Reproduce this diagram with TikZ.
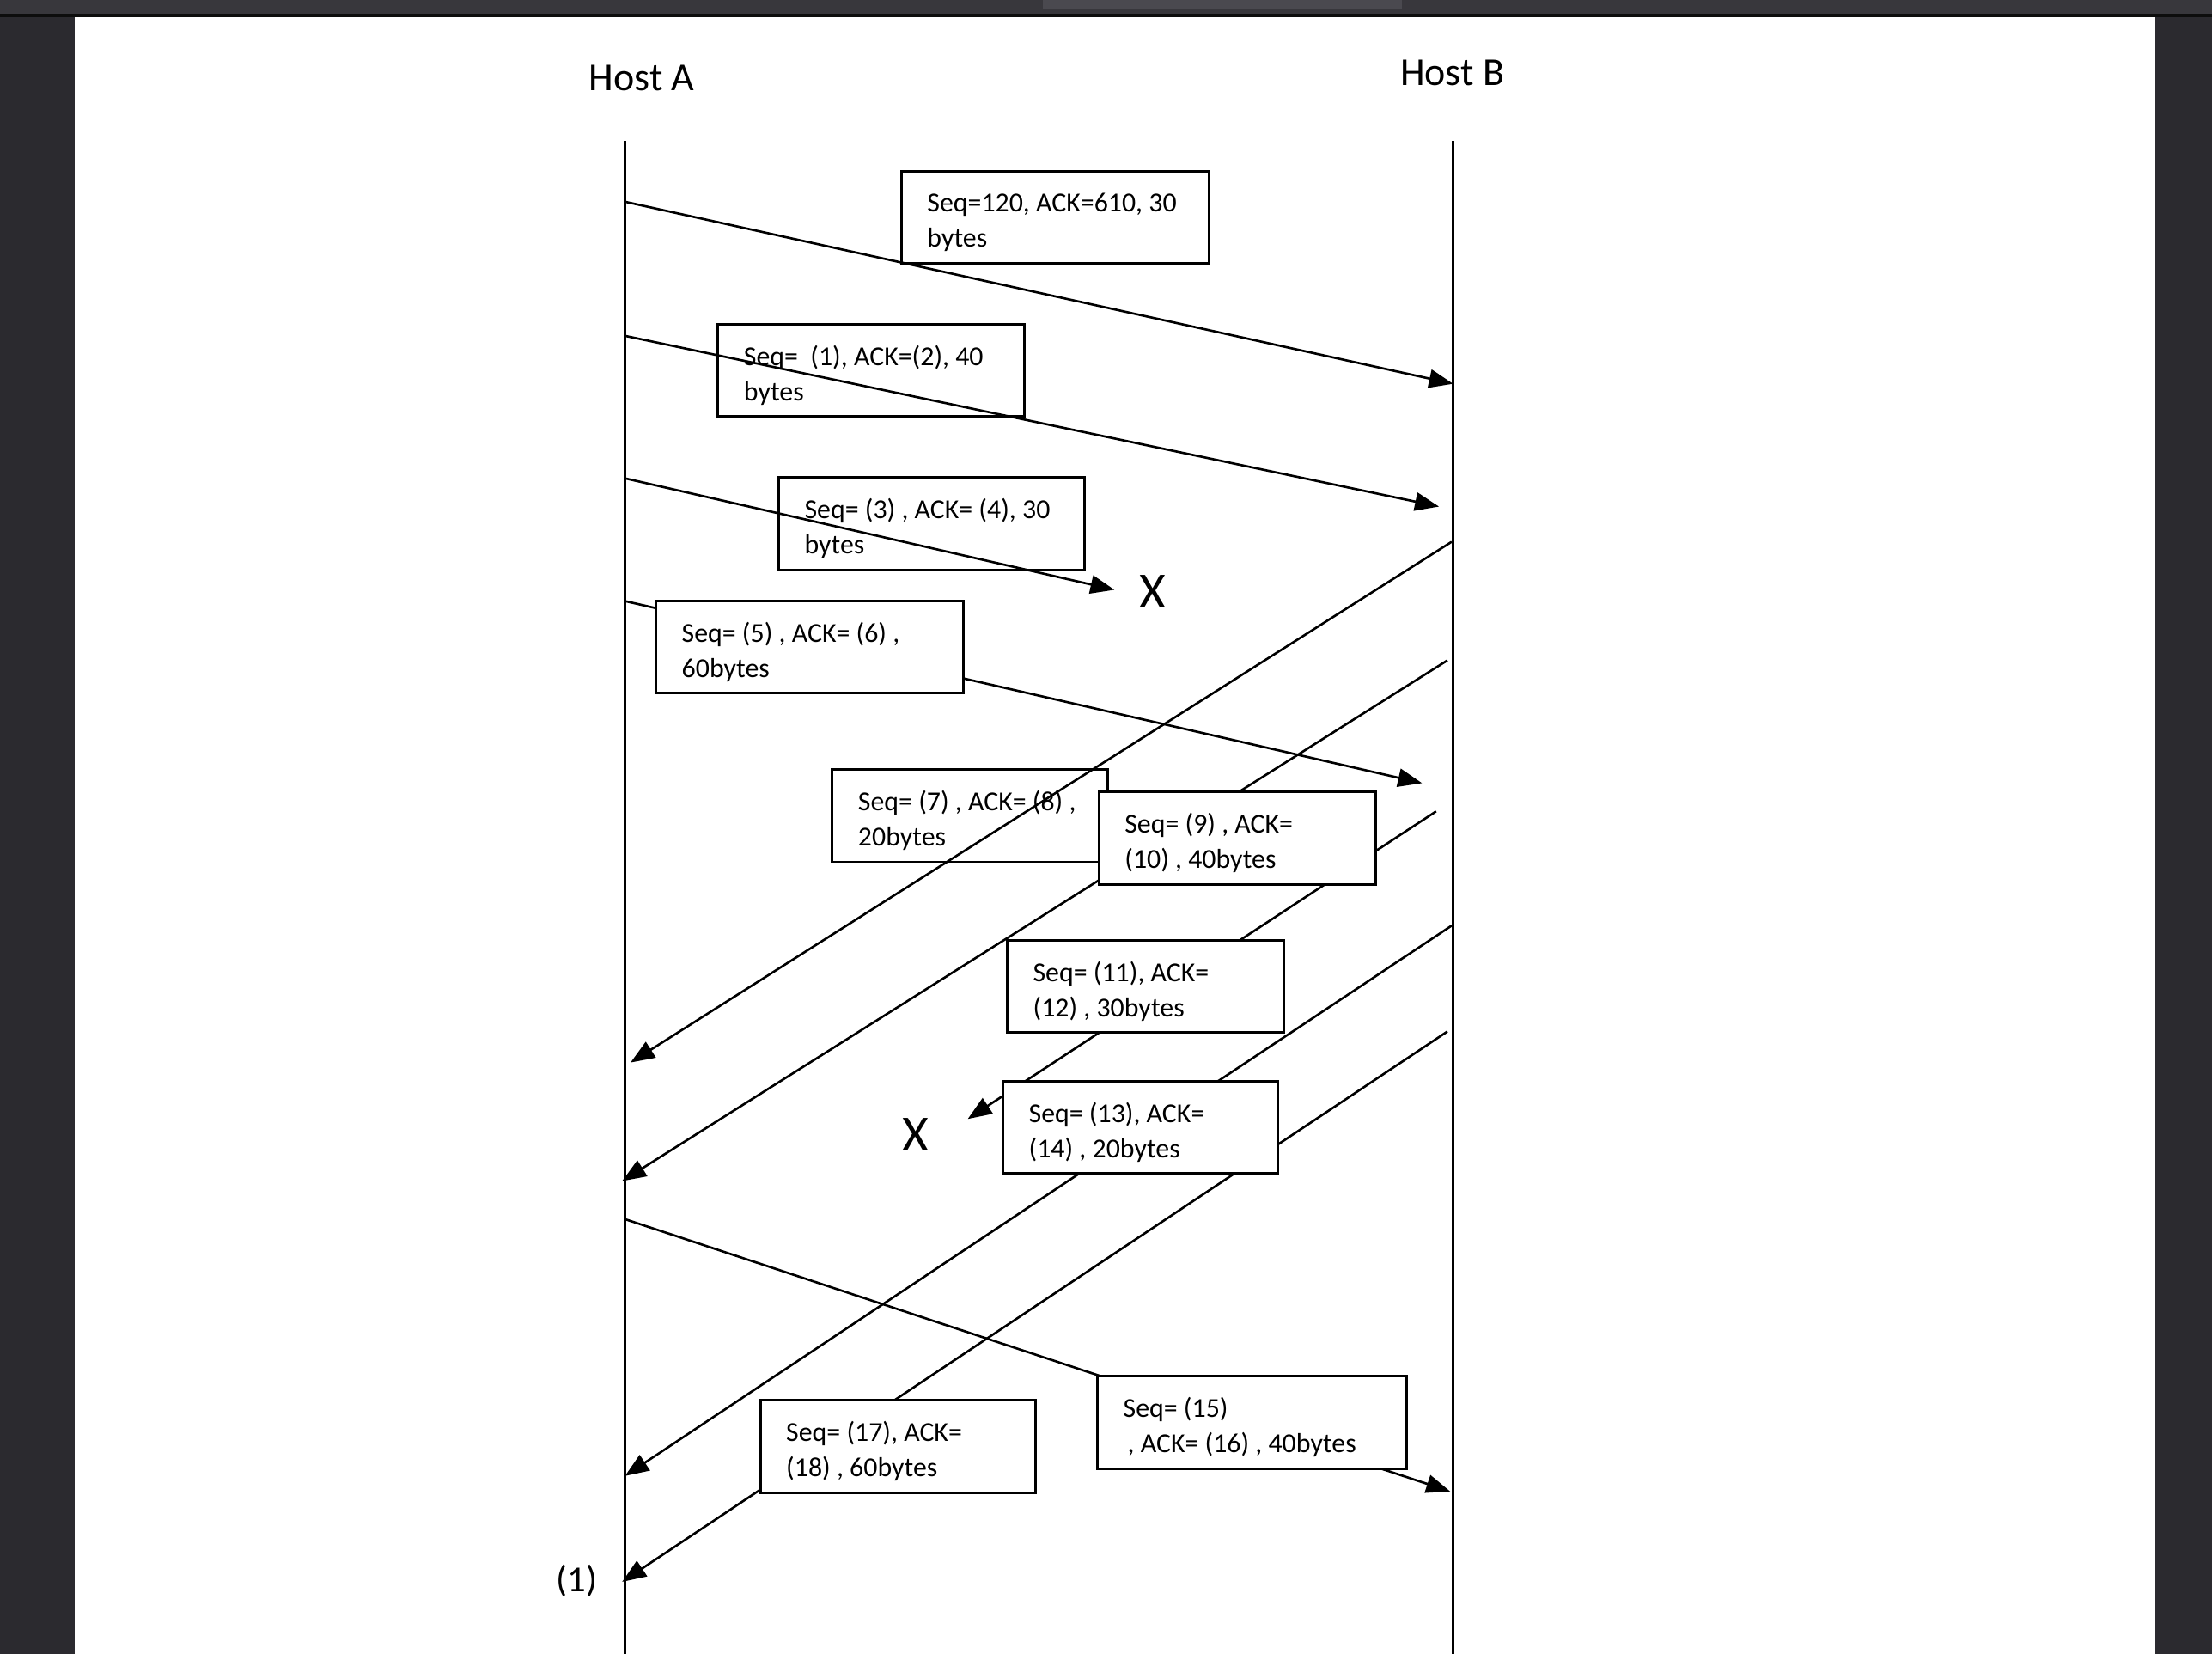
\documentclass[tikz,border=0pt]{standalone}
\usepackage{fontspec}
\setmainfont{Carlito}
\usetikzlibrary{arrows.meta,calc}
\definecolor{frame}{HTML}{2B2A2F}
\definecolor{topbar}{HTML}{38373C}
\definecolor{tabc}{HTML}{4A494F}
\begin{document}
\begin{tikzpicture}[x=1pt,y=-1pt,
  life/.style={line width=1.3pt},
  msg/.style={line width=1.6pt,-{Triangle[length=17pt,width=13pt]}},
  box/.style={draw,line width=1.8pt,minimum height=65.5pt,inner sep=0pt},
  wbox/.style={box,fill=white},
  lbl/.style={font=\fontsize{19.4}{25}\selectfont,align=left,inner sep=0pt,anchor=west},
  host/.style={font=\fontsize{28}{32}\selectfont,inner sep=0pt},
  cross/.style={font=\fontsize{36}{40}\selectfont,inner sep=0pt}]

\useasboundingbox (0,0) rectangle (1568,1172);
\fill[frame] (0,0) rectangle (1568,1172);
\fill[topbar] (0,0) rectangle (1568,10);
\fill[tabc] (739,0) rectangle (994,6.5);
\fill[black!95] (0,10) rectangle (1568,12);
\fill[white] (53,12) rectangle (1528,1172);

% hosts
\node[host] (hA) at (455,55.5) {Host A};
\node[host] (hB) at (1029.5,52) {Host B};

% lifelines
\coordinate (Atop) at (443,100);
\coordinate (Abot) at (443,1172);
\coordinate (Btop) at (1030,100);
\coordinate (Bbot) at (1030,1172);
\draw[life] (Atop) -- (Abot);
\draw[life] (Btop) -- (Bbot);

% message end points
\coordinate (s1) at (443,143);   \coordinate (e1) at (1030,272);
\coordinate (s2) at (443,238);   \coordinate (e2) at (1020,359);
\coordinate (s3) at (443,339);   \coordinate (e3) at (790,418);
\coordinate (s4) at (443,426);   \coordinate (e4) at (1008,555);
\coordinate (s5) at (1029,384);  \coordinate (e5) at (447,753);
\coordinate (s6) at (1026,468);  \coordinate (e6) at (441,837);
\coordinate (s7) at (1018,575);  \coordinate (e7) at (686,793);
\coordinate (s8) at (1029,656);  \coordinate (e8) at (443,1046);
\coordinate (s9) at (1026,731);  \coordinate (e9) at (441,1121);
\coordinate (s10) at (443,864);  \coordinate (e10) at (1028,1057);

\foreach \i in {1,...,10} {\draw[msg] (s\i) -- (e\i);}

% loss marks and label
\node[cross] (x1) at (817,419) {X};
\node[cross] (x2) at (649,804) {X};
\node[font=\fontsize{26}{30}\selectfont,inner sep=0pt] (one) at (409,1120.5) {(1)};

% boxes
\node[box,minimum width=218pt] (b1) at (748,154) {};
\node[lbl] (t1) at ($(b1.west)+(19,3.5)$) {Seq=120, ACK=610, 30\\bytes};

\node[box,minimum width=217pt] (b2) at (617.5,262.5) {};
\node[lbl] (t2) at ($(b2.west)+(19,3.5)$) {Seq=~~(1), ACK=(2), 40\\bytes};

\node[box,minimum width=217pt] (b3) at (660.5,371) {};
\node[lbl] (t3) at ($(b3.west)+(19,3.5)$) {Seq= (3) , ACK= (4), 30\\bytes};

\node[wbox,minimum width=218pt] (b4) at (574,458.5) {};
\node[lbl] (t4) at ($(b4.west)+(19,3.5)$) {Seq= (5) , ACK= (6) ,\\60bytes};

\node[box,minimum width=195pt] (b5) at (687.5,578) {};
\node[lbl] (t5) at ($(b5.west)+(19,3.5)$) {Seq= (7) , ACK= (8) ,\\20bytes};

\node[wbox,minimum width=196pt] (b6) at (877,594) {};
\node[lbl] (t6) at ($(b6.west)+(19,3.5)$) {Seq= (9) , ACK=\\(10) , 40bytes};

\node[wbox,minimum width=196pt] (b7) at (812,699) {};
\node[lbl] (t7) at ($(b7.west)+(19,3.5)$) {Seq= (11), ACK=\\(12) , 30bytes};

\node[wbox,minimum width=195pt] (b8) at (808.5,799) {};
\node[lbl] (t8) at ($(b8.west)+(19,3.5)$) {Seq= (13), ACK=\\(14) , 20bytes};

\node[wbox,minimum width=219pt] (b9) at (887.5,1008) {};
\node[lbl] (t9) at ($(b9.west)+(19,3.5)$) {Seq= (15)\\\hspace{3pt}, ACK= (16) , 40bytes};

\node[wbox,minimum width=195pt] (b10) at (636.5,1025) {};
\node[lbl] (t10) at ($(b10.west)+(19,3.5)$) {Seq= (17), ACK=\\(18) , 60bytes};

\end{tikzpicture}
\end{document}
